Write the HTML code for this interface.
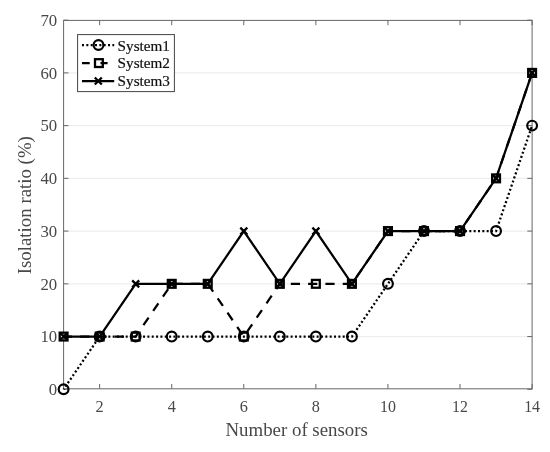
<!DOCTYPE html>
<html><head><meta charset="utf-8"><title>Isolation ratio</title>
<style>
html,body{margin:0;padding:0;background:#fff}
svg text{font-family:"Liberation Serif","DejaVu Serif",serif}
.t{font-size:16.6px;fill:#484848}
.l{font-size:18.85px;fill:#484848}
.g{font-size:15.2px;fill:#111;stroke:#111;stroke-width:0.2px}
</style></head><body>
<svg width="550" height="452" viewBox="0 0 550 452" style="display:block">
<rect width="550" height="452" fill="#fff"/>
<line x1="63.6" x2="532.1" y1="336.56" y2="336.56" stroke="#ededed" stroke-width="1.2"/>
<line x1="63.6" x2="532.1" y1="283.83" y2="283.83" stroke="#ededed" stroke-width="1.2"/>
<line x1="63.6" x2="532.1" y1="231.09" y2="231.09" stroke="#ededed" stroke-width="1.2"/>
<line x1="63.6" x2="532.1" y1="178.36" y2="178.36" stroke="#ededed" stroke-width="1.2"/>
<line x1="63.6" x2="532.1" y1="125.62" y2="125.62" stroke="#ededed" stroke-width="1.2"/>
<line x1="63.6" x2="532.1" y1="72.89" y2="72.89" stroke="#ededed" stroke-width="1.2"/>
<rect x="63.6" y="20.4" width="468.5" height="368.40000000000003" fill="none" stroke="#676767" stroke-width="1"/>
<line x1="99.64" x2="99.64" y1="388.8" y2="384.0" stroke="#676767" stroke-width="1"/>
<line x1="99.64" x2="99.64" y1="20.4" y2="25.2" stroke="#676767" stroke-width="1"/>
<text transform="translate(99.64,411.5) scale(0.98,1)" text-anchor="middle" class="t">2</text>
<line x1="171.72" x2="171.72" y1="388.8" y2="384.0" stroke="#676767" stroke-width="1"/>
<line x1="171.72" x2="171.72" y1="20.4" y2="25.2" stroke="#676767" stroke-width="1"/>
<text transform="translate(171.72,411.5) scale(0.98,1)" text-anchor="middle" class="t">4</text>
<line x1="243.79" x2="243.79" y1="388.8" y2="384.0" stroke="#676767" stroke-width="1"/>
<line x1="243.79" x2="243.79" y1="20.4" y2="25.2" stroke="#676767" stroke-width="1"/>
<text transform="translate(243.79,411.5) scale(0.98,1)" text-anchor="middle" class="t">6</text>
<line x1="315.87" x2="315.87" y1="388.8" y2="384.0" stroke="#676767" stroke-width="1"/>
<line x1="315.87" x2="315.87" y1="20.4" y2="25.2" stroke="#676767" stroke-width="1"/>
<text transform="translate(315.87,411.5) scale(0.98,1)" text-anchor="middle" class="t">8</text>
<line x1="387.95" x2="387.95" y1="388.8" y2="384.0" stroke="#676767" stroke-width="1"/>
<line x1="387.95" x2="387.95" y1="20.4" y2="25.2" stroke="#676767" stroke-width="1"/>
<text transform="translate(387.95,411.5) scale(0.96,1)" text-anchor="middle" class="t">10</text>
<line x1="460.02" x2="460.02" y1="388.8" y2="384.0" stroke="#676767" stroke-width="1"/>
<line x1="460.02" x2="460.02" y1="20.4" y2="25.2" stroke="#676767" stroke-width="1"/>
<text transform="translate(460.02,411.5) scale(0.96,1)" text-anchor="middle" class="t">12</text>
<line x1="532.10" x2="532.10" y1="388.8" y2="384.0" stroke="#676767" stroke-width="1"/>
<line x1="532.10" x2="532.10" y1="20.4" y2="25.2" stroke="#676767" stroke-width="1"/>
<text transform="translate(532.10,411.5) scale(0.96,1)" text-anchor="middle" class="t">14</text>
<line x1="63.6" x2="68.4" y1="389.30" y2="389.30" stroke="#676767" stroke-width="1"/>
<line x1="532.1" x2="527.3000000000001" y1="389.30" y2="389.30" stroke="#676767" stroke-width="1"/>
<text transform="translate(57.2,395.10) scale(1.01,1)" text-anchor="end" class="t">0</text>
<line x1="63.6" x2="68.4" y1="336.56" y2="336.56" stroke="#676767" stroke-width="1"/>
<line x1="532.1" x2="527.3000000000001" y1="336.56" y2="336.56" stroke="#676767" stroke-width="1"/>
<text transform="translate(57.2,342.36) scale(1.01,1)" text-anchor="end" class="t">10</text>
<line x1="63.6" x2="68.4" y1="283.83" y2="283.83" stroke="#676767" stroke-width="1"/>
<line x1="532.1" x2="527.3000000000001" y1="283.83" y2="283.83" stroke="#676767" stroke-width="1"/>
<text transform="translate(57.2,289.63) scale(1.01,1)" text-anchor="end" class="t">20</text>
<line x1="63.6" x2="68.4" y1="231.09" y2="231.09" stroke="#676767" stroke-width="1"/>
<line x1="532.1" x2="527.3000000000001" y1="231.09" y2="231.09" stroke="#676767" stroke-width="1"/>
<text transform="translate(57.2,236.89) scale(1.01,1)" text-anchor="end" class="t">30</text>
<line x1="63.6" x2="68.4" y1="178.36" y2="178.36" stroke="#676767" stroke-width="1"/>
<line x1="532.1" x2="527.3000000000001" y1="178.36" y2="178.36" stroke="#676767" stroke-width="1"/>
<text transform="translate(57.2,184.16) scale(1.01,1)" text-anchor="end" class="t">40</text>
<line x1="63.6" x2="68.4" y1="125.62" y2="125.62" stroke="#676767" stroke-width="1"/>
<line x1="532.1" x2="527.3000000000001" y1="125.62" y2="125.62" stroke="#676767" stroke-width="1"/>
<text transform="translate(57.2,131.42) scale(1.01,1)" text-anchor="end" class="t">50</text>
<line x1="63.6" x2="68.4" y1="72.89" y2="72.89" stroke="#676767" stroke-width="1"/>
<line x1="532.1" x2="527.3000000000001" y1="72.89" y2="72.89" stroke="#676767" stroke-width="1"/>
<text transform="translate(57.2,78.69) scale(1.01,1)" text-anchor="end" class="t">60</text>
<line x1="63.6" x2="68.4" y1="20.15" y2="20.15" stroke="#676767" stroke-width="1"/>
<line x1="532.1" x2="527.3000000000001" y1="20.15" y2="20.15" stroke="#676767" stroke-width="1"/>
<text transform="translate(57.2,25.95) scale(1.01,1)" text-anchor="end" class="t">70</text>
<text x="225.5" y="435.8" class="l">Number of sensors</text>
<text transform="translate(30.9,205.2) rotate(-90)" text-anchor="middle" class="l">Isolation ratio (%)</text>
<polyline points="63.60,389.30 99.64,336.56 135.68,336.56 171.72,336.56 207.75,336.56 243.79,336.56 279.83,336.56 315.87,336.56 351.91,336.56 387.95,283.83 423.98,231.09 460.02,231.09 496.06,231.09 532.10,125.62" fill="none" stroke="#000" stroke-width="2.25" stroke-dasharray="2 2.34" stroke-dashoffset="1.2"/>
<polyline points="63.60,336.56 99.64,336.56 135.68,336.56 171.72,283.83 207.75,283.83 243.79,336.56 279.83,283.83 315.87,283.83 351.91,283.83 387.95,231.09 423.98,231.09 460.02,231.09 496.06,178.36 532.10,72.89" fill="none" stroke="#000" stroke-width="2.25" stroke-dasharray="9.2 8.1" stroke-dashoffset="0.7"/>
<polyline points="63.60,336.56 99.64,336.56 135.68,283.83 171.72,283.83 207.75,283.83 243.79,231.09 279.83,283.83 315.87,231.09 351.91,283.83 387.95,231.09 423.98,231.09 460.02,231.09 496.06,178.36 532.10,72.89" fill="none" stroke="#000" stroke-width="2.25" stroke-linejoin="miter"/>
<circle cx="63.60" cy="389.30" r="4.9" fill="none" stroke="#000" stroke-width="2.15"/>
<circle cx="99.64" cy="336.56" r="4.9" fill="none" stroke="#000" stroke-width="2.15"/>
<circle cx="135.68" cy="336.56" r="4.9" fill="none" stroke="#000" stroke-width="2.15"/>
<circle cx="171.72" cy="336.56" r="4.9" fill="none" stroke="#000" stroke-width="2.15"/>
<circle cx="207.75" cy="336.56" r="4.9" fill="none" stroke="#000" stroke-width="2.15"/>
<circle cx="243.79" cy="336.56" r="4.9" fill="none" stroke="#000" stroke-width="2.15"/>
<circle cx="279.83" cy="336.56" r="4.9" fill="none" stroke="#000" stroke-width="2.15"/>
<circle cx="315.87" cy="336.56" r="4.9" fill="none" stroke="#000" stroke-width="2.15"/>
<circle cx="351.91" cy="336.56" r="4.9" fill="none" stroke="#000" stroke-width="2.15"/>
<circle cx="387.95" cy="283.83" r="4.9" fill="none" stroke="#000" stroke-width="2.15"/>
<circle cx="423.98" cy="231.09" r="4.9" fill="none" stroke="#000" stroke-width="2.15"/>
<circle cx="460.02" cy="231.09" r="4.9" fill="none" stroke="#000" stroke-width="2.15"/>
<circle cx="496.06" cy="231.09" r="4.9" fill="none" stroke="#000" stroke-width="2.15"/>
<circle cx="532.10" cy="125.62" r="4.9" fill="none" stroke="#000" stroke-width="2.15"/>
<rect x="59.70" y="332.66" width="7.8" height="7.8" fill="none" stroke="#000" stroke-width="2.3"/>
<rect x="95.74" y="332.66" width="7.8" height="7.8" fill="none" stroke="#000" stroke-width="2.3"/>
<rect x="131.78" y="332.66" width="7.8" height="7.8" fill="none" stroke="#000" stroke-width="2.3"/>
<rect x="167.82" y="279.93" width="7.8" height="7.8" fill="none" stroke="#000" stroke-width="2.3"/>
<rect x="203.85" y="279.93" width="7.8" height="7.8" fill="none" stroke="#000" stroke-width="2.3"/>
<rect x="239.89" y="332.66" width="7.8" height="7.8" fill="none" stroke="#000" stroke-width="2.3"/>
<rect x="275.93" y="279.93" width="7.8" height="7.8" fill="none" stroke="#000" stroke-width="2.3"/>
<rect x="311.97" y="279.93" width="7.8" height="7.8" fill="none" stroke="#000" stroke-width="2.3"/>
<rect x="348.01" y="279.93" width="7.8" height="7.8" fill="none" stroke="#000" stroke-width="2.3"/>
<rect x="384.05" y="227.19" width="7.8" height="7.8" fill="none" stroke="#000" stroke-width="2.3"/>
<rect x="420.08" y="227.19" width="7.8" height="7.8" fill="none" stroke="#000" stroke-width="2.3"/>
<rect x="456.12" y="227.19" width="7.8" height="7.8" fill="none" stroke="#000" stroke-width="2.3"/>
<rect x="492.16" y="174.46" width="7.8" height="7.8" fill="none" stroke="#000" stroke-width="2.3"/>
<rect x="528.20" y="68.99" width="7.8" height="7.8" fill="none" stroke="#000" stroke-width="2.3"/>
<path d="M60.10 333.06L67.10 340.06M60.10 340.06L67.10 333.06" fill="none" stroke="#000" stroke-width="2.3"/>
<path d="M96.14 333.06L103.14 340.06M96.14 340.06L103.14 333.06" fill="none" stroke="#000" stroke-width="2.3"/>
<path d="M132.18 280.33L139.18 287.33M132.18 287.33L139.18 280.33" fill="none" stroke="#000" stroke-width="2.3"/>
<path d="M168.22 280.33L175.22 287.33M168.22 287.33L175.22 280.33" fill="none" stroke="#000" stroke-width="2.3"/>
<path d="M204.25 280.33L211.25 287.33M204.25 287.33L211.25 280.33" fill="none" stroke="#000" stroke-width="2.3"/>
<path d="M240.29 227.59L247.29 234.59M240.29 234.59L247.29 227.59" fill="none" stroke="#000" stroke-width="2.3"/>
<path d="M276.33 280.33L283.33 287.33M276.33 287.33L283.33 280.33" fill="none" stroke="#000" stroke-width="2.3"/>
<path d="M312.37 227.59L319.37 234.59M312.37 234.59L319.37 227.59" fill="none" stroke="#000" stroke-width="2.3"/>
<path d="M348.41 280.33L355.41 287.33M348.41 287.33L355.41 280.33" fill="none" stroke="#000" stroke-width="2.3"/>
<path d="M384.45 227.59L391.45 234.59M384.45 234.59L391.45 227.59" fill="none" stroke="#000" stroke-width="2.3"/>
<path d="M420.48 227.59L427.48 234.59M420.48 234.59L427.48 227.59" fill="none" stroke="#000" stroke-width="2.3"/>
<path d="M456.52 227.59L463.52 234.59M456.52 234.59L463.52 227.59" fill="none" stroke="#000" stroke-width="2.3"/>
<path d="M492.56 174.86L499.56 181.86M492.56 181.86L499.56 174.86" fill="none" stroke="#000" stroke-width="2.3"/>
<path d="M528.60 69.39L535.60 76.39M528.60 76.39L535.60 69.39" fill="none" stroke="#000" stroke-width="2.3"/>
<rect x="77.6" y="34.6" width="96.8" height="57" fill="#fff" stroke="#444" stroke-width="1"/>
<line x1="82" x2="114.2" y1="45" y2="45" stroke="#000" stroke-width="2.25" stroke-dasharray="2 2.34"/>
<path d="M82 63.1H89.7M100.5 63.1H107.6" stroke="#000" stroke-width="2.25" fill="none"/>
<line x1="82" x2="114.2" y1="81" y2="81" stroke="#000" stroke-width="2.25"/>
<circle cx="98.50" cy="45.00" r="4.9" fill="none" stroke="#000" stroke-width="2.15"/>
<rect x="95.00" y="59.20" width="7.8" height="7.8" fill="none" stroke="#000" stroke-width="2.3"/>
<path d="M94.80 77.50L101.80 84.50M94.80 84.50L101.80 77.50" fill="none" stroke="#000" stroke-width="2.3"/>
<text x="117.6" y="50.6" class="g">System1</text>
<text x="117.6" y="68.3" class="g">System2</text>
<text x="117.6" y="86.3" class="g">System3</text>
</svg>
</body></html>
